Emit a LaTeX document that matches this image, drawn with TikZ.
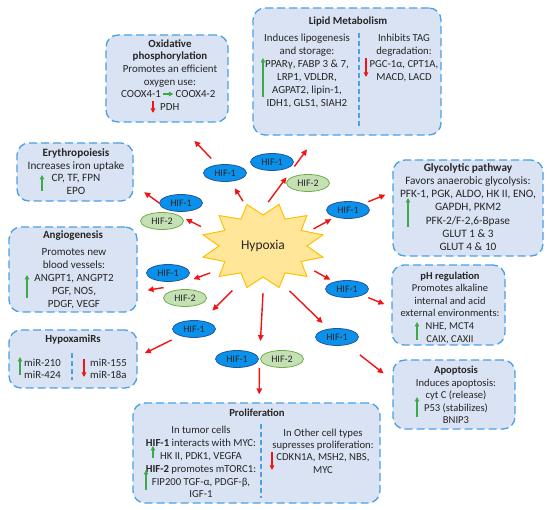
\documentclass[tikz,border=0pt]{standalone}
\usepackage{fontspec}
\setmainfont{Carlito}
\usetikzlibrary{shapes.geometric,arrows.meta,calc}
\definecolor{boxfill}{RGB}{218,227,243}
\definecolor{boxline}{RGB}{75,160,225}
\definecolor{txtc}{RGB}{38,38,38}
\definecolor{hifblue}{RGB}{10,145,235}
\definecolor{hifline}{RGB}{35,85,155}
\definecolor{hiftwofill}{RGB}{197,224,180}
\definecolor{hiftwoline}{RGB}{112,173,71}
\definecolor{starfill}{RGB}{255,230,153}
\definecolor{starline}{RGB}{255,192,0}
\definecolor{arrred}{RGB}{240,20,20}
\definecolor{arrgreen}{RGB}{60,170,70}
\begin{document}
\begin{tikzpicture}[x=1pt,y=-1pt,
  panel/.style={draw=boxline, fill=boxfill, rounded corners=12pt, line width=1.3pt, dash pattern=on 8pt off 4pt, inner sep=0pt},
  txt/.style={align=center, inner sep=0pt, text=txtc, font=\fontsize{10.8}{12.8}\selectfont},
  hifone/.style={ellipse, draw=hifline, fill=hifblue, line width=0.8pt, minimum width=43pt, minimum height=17pt, inner sep=0pt, font=\fontsize{10}{12}\selectfont, text=txtc},
  hiftwo/.style={hifone, draw=hiftwoline, fill=hiftwofill},
  rarr/.style={draw=arrred, line width=1.4pt, -{Triangle[length=6pt,width=5.5pt]}},
  garr/.style={draw=arrgreen, line width=1.4pt, -{Triangle[length=4.5pt,width=4.5pt]}},
  darr/.style={draw=arrred, line width=1.4pt, -{Triangle[length=4.5pt,width=4.5pt]}},
  divider/.style={draw=boxline, line width=1.2pt, dash pattern=on 5pt off 3pt}]
\useasboundingbox (0,0) rectangle (550,510);

% ---------- boxes ----------
\node[panel, minimum width=122pt, minimum height=87pt] (ox) at (167,78.5) {};
\node[panel, minimum width=188pt, minimum height=127pt] (lip) at (347,71.5) {};
\node[panel, minimum width=116pt, minimum height=58pt] (ery) at (75,172) {};
\node[panel, minimum width=128pt, minimum height=85pt] (ang) at (73,269.5) {};
\node[panel, minimum width=128pt, minimum height=58pt] (hmr) at (73,359) {};
\node[panel, minimum width=150pt, minimum height=96pt] (gly) at (468,208) {};
\node[panel, minimum width=113pt, minimum height=80pt] (ph) at (448.5,305) {};
\node[panel, minimum width=122pt, minimum height=69pt] (apo) at (454,394.5) {};
\node[panel, minimum width=247pt, minimum height=100pt] (pro) at (256.5,453) {};

% ---------- Oxidative phosphorylation ----------
\node[txt, font=\fontsize{10.9}{12.8}\selectfont] (oxt) at (170,63.5) {\textbf{Oxidative}\\\textbf{phosphorylation}\\Promotes an efficient\\oxygen use:};
\node[txt, font=\fontsize{10.9}{12.8}\selectfont] (cx1) at (141,94) {COOX4-1};
\node[txt, font=\fontsize{10.9}{12.8}\selectfont] (cx2) at (195.5,94) {COOX4-2};
\draw[garr, shorten <=2pt, shorten >=2pt] (cx1.east) -- (cx2.west);
\node[txt, anchor=west, font=\fontsize{10.9}{12.8}\selectfont] (pdh) at (160,107) {PDH};
\draw[darr] (153,101) -- (153,113);

% ---------- Lipid metabolism ----------
\node[txt, font=\fontsize{10.9}{13}\selectfont] (lipt) at (348,22) {\textbf{Lipid Metabolism}};
\node[txt, font=\fontsize{10.9}{13}\selectfont] (lipl) at (307,70.5) {Induces lipogenesis\\and storage:\\PPARγ, FABP 3 \& 7,\\LRP1, VDLDR,\\AGPAT2, lipin-1,\\IDH1, GLS1, SIAH2};
\node[txt, font=\fontsize{10.7}{13}\selectfont] (lipr) at (404,57.5) {Inhibits TAG\\degradation:\\PGC-1α, CPT1A,\\MACD, LACD};
\draw[divider] (359,33) -- (359,128);
\draw[garr] (263,97) -- (263,58);
\draw[darr] (366,58) -- (366,77);

% ---------- Erythropoiesis ----------
\node[txt, font=\fontsize{11.2}{12.5}\selectfont] (eryt) at (76,171.5) {\textbf{Erythropoiesis}\\Increases iron uptake\\CP, TF, FPN\\EPO};
\draw[garr] (42,191) -- (42,175);

% ---------- Angiogenesis ----------
\node[txt, font=\fontsize{11}{12.9}\selectfont] (angt) at (73,236) {\textbf{Angiogenesis}};
\node[txt, font=\fontsize{11}{12.9}\selectfont] (angb) at (74,278.5) {Promotes new\\blood vessels:\\ANGPT1, ANGPT2\\PGF, NOS,\\PDGF, VEGF};
\draw[garr] (27,298) -- (27,275);

% ---------- HypoxamiRs ----------
\node[txt] (hmrt) at (73,340) {\textbf{HypoxamiRs}};
\node[txt, align=left, anchor=west, font=\fontsize{10.8}{12}\selectfont] (hmrl) at (24,368.5) {miR-210\\miR-424};
\node[txt, align=left, anchor=west, font=\fontsize{10.8}{12}\selectfont] (hmrr) at (90,368.5) {miR-155\\miR-18a};
\draw[divider] (72,353) -- (72,380);
\draw[garr] (20,375) -- (20,357);
\draw[darr] (84,359) -- (84,377);

% ---------- Glycolytic pathway ----------
\node[txt, font=\fontsize{11.3}{13.3}\selectfont] (glyt) at (468,207) {\textbf{Glycolytic pathway}\\Favors anaerobic glycolysis:\\PFK-1, PGK, ALDO, HK II, ENO,\\GAPDH, PKM2\\PFK-2/F-2,6-Bpase\\GLUT 1 \& 3\\GLUT 4 \& 10};
\draw[garr] (408,227) -- (408,198);

% ---------- pH regulation ----------
\node[txt, font=\fontsize{10.5}{12.6}\selectfont] (pht) at (450,307.5) {\textbf{pH regulation}\\Promotes alkaline\\internal and acid\\external environments:\\NHE, MCT4\\CAIX, CAXII};
\draw[garr] (417,340) -- (417,322);

% ---------- Apoptosis ----------
\node[txt, font=\fontsize{10.6}{12.5}\selectfont] (apot) at (456,395) {\textbf{Apoptosis}\\Induces apoptosis:\\cyt C (release)\\P53 (stabilizes)\\BNIP3};
\draw[garr] (417,417) -- (417,397);

% ---------- Proliferation ----------
\node[txt, font=\fontsize{10.7}{12.8}\selectfont] (prot) at (257,413) {\textbf{Proliferation}};
\node[txt, font=\fontsize{10.7}{12.8}\selectfont] (prol) at (201,462.3) {In tumor cells\\\textbf{HIF-1} interacts with MYC:\\HK II, PDK1, VEGFA\\\textbf{HIF-2} promotes mTORC1:\\FIP200 TGF-α, PDGF-β,\\IGF-1};
\node[txt, font=\fontsize{10.7}{12.3}\selectfont] (pror) at (323,451) {In Other cell types\\supresses proliferation:\\CDKN1A, MSH2, NBS,\\MYC};
\draw[divider] (261,424) -- (261,498);
\draw[garr] (153,458) -- (153,446);
\draw[garr] (146,490) -- (146,470);
\draw[darr] (272,452) -- (272,470);

% ---------- Hypoxia star ----------
\draw[fill=starfill, draw=starline, line width=1pt]
  plot[variable=\k, samples at={0,...,23}]
  ({263+ifthenelse(mod(\k,2)==0,62,44)*cos(15+15*\k)}, {246-ifthenelse(mod(\k,2)==0,43,31)*sin(15+15*\k)}) -- cycle;
\node[ellipse, minimum width=128pt, minimum height=94pt, inner sep=0pt, text=txtc, font=\fontsize{13.5}{16}\selectfont] (hyp) at (263,246) {Hypoxia};

% ---------- HIF nodes ----------
\node[hifone] (hA) at (225,173) {HIF-1};
\node[hifone] (hB) at (272,162) {HIF-1};
\node[hiftwo] (hC) at (308,183) {HIF-2};
\node[hifone] (hD) at (181,203) {HIF-1};
\node[hiftwo] (hE) at (162,221) {HIF-2};
\node[hifone] (hF) at (348,210) {HIF-1};
\node[hifone] (hG) at (168,273) {HIF-1};
\node[hiftwo] (hH) at (185,298) {HIF-2};
\node[hifone] (hI) at (347,289) {HIF-1};
\node[hifone] (hJ) at (194,329) {HIF-1};
\node[hifone] (hK) at (337,337) {HIF-1};
\node[hifone] (hL) at (237,359) {HIF-1};
\node[hiftwo] (hM) at (282,359) {HIF-2};

\coordinate (mBC) at ($(hB)!0.5!(hC)$);
\coordinate (mDE) at ($(hD)!0.5!(hE)$);
\coordinate (mGH) at ($(hG)!0.5!(hH)$);
\coordinate (mLM) at ($(hL)!0.5!(hM)$);

% ---------- connectors ----------
\draw[rarr, shorten >=18pt] (hyp.114) -- (hA.center);
\draw[rarr, shorten <=20pt, shorten >=25pt] (hA.center) -- (ox.-77);
\draw[rarr, shorten <=-3.7pt, shorten >=6pt] (hyp.81) -- (mBC);
\draw[rarr, shorten <=7.4pt, shorten >=17pt] (mBC) -- (lip.-115);
\draw[rarr, shorten <=3pt, shorten >=16pt] (hyp.163) -- (mDE);
\draw[rarr, shorten <=15pt, shorten >=13pt] (mDE) -- (ery.-12);
\draw[rarr, shorten <=-8pt, shorten >=19pt] (hyp.20) -- (hF.center);
\draw[rarr, shorten <=22pt, shorten >=7.5pt] (hF.center) -- (gly.168);
\draw[rarr, shorten >=18pt] (hyp.207) -- (mGH);
\draw[rarr, shorten <=13pt, shorten >=10pt] (mGH) -- (ang.-19);
\draw[rarr, shorten <=-2.5pt, shorten >=19pt] (hyp.-26) -- (hI.center);
\draw[rarr, shorten <=23pt, shorten >=7.5pt] (hI.center) -- (ph.-178);
\draw[rarr, shorten <=3pt, shorten >=26pt] (hyp.236) -- (hJ.center);
\draw[rarr, shorten <=25pt, shorten >=8pt] (hJ.center) -- (hmr.2);
\draw[rarr, shorten <=2pt, shorten >=20pt] (hyp.-60) -- (hK.center);
\draw[rarr, shorten <=29pt, shorten >=11pt] (hK.center) -- (apo.167);
\draw[rarr, shorten >=18pt] (hyp.-90) -- (mLM);
\draw[rarr, shorten <=9pt, shorten >=8pt] (mLM) -- (pro.87);
\end{tikzpicture}
\end{document}
